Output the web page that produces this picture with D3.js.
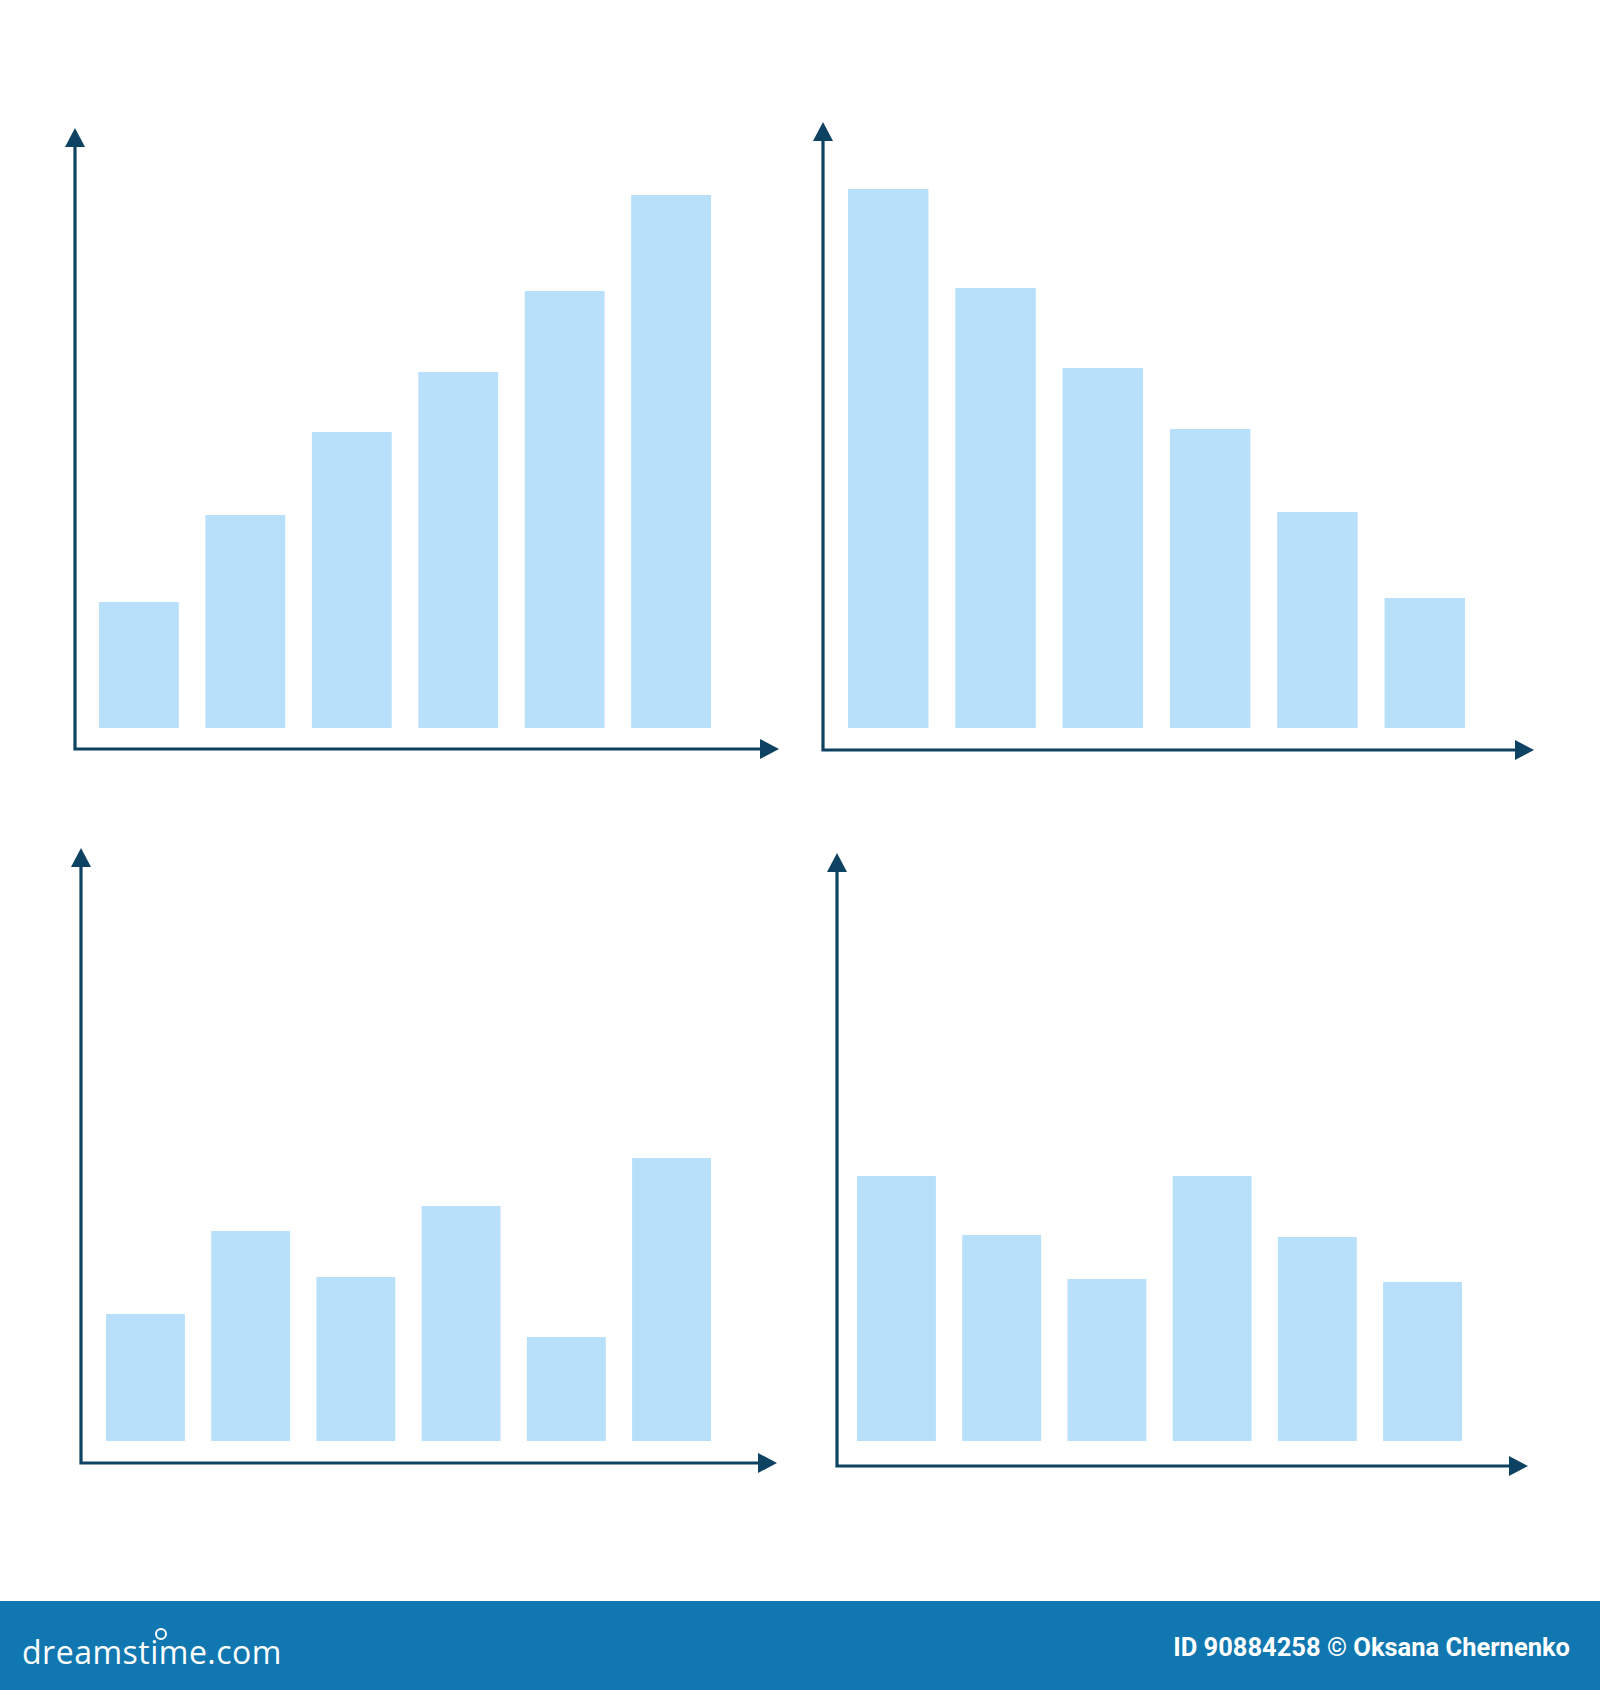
<!DOCTYPE html>
<html>
<head>
<meta charset="utf-8">
<script src="https://cdn.jsdelivr.net/npm/d3@7/dist/d3.min.js"></script>
<style>
  html, body { margin: 0; padding: 0; background: #ffffff; }
  svg { display: block; }
</style>
</head>
<body>
<svg id="chart" width="1600" height="1690"></svg>
<script>
// ---- Data ----
const categories = ["A", "B", "C", "D", "E", "F"];
const risingValues    = [126, 213, 296, 356, 437, 533];
const fallingValues   = [539, 440, 360, 299, 216, 130];
const mixedValuesA    = [127, 210, 164, 235, 104, 283];
const mixedValuesB    = [265, 206, 162, 265, 204, 159];
const valueMax = 600;

const footerLeft = "dreamstime.com";
const footerRight = "ID 90884258 \u00A9 Oksana Chernenko";

// ---- Layout (positions only) ----
const panels = [
  { values: risingValues,  yAxisX: 75,  yTop: 128, xAxisY: 749, xEnd: 779,  barX0: 99,  barX1: 711,  base: 728 },
  { values: fallingValues, yAxisX: 823, yTop: 122, xAxisY: 750, xEnd: 1534, barX0: 848, barX1: 1465, base: 728 },
  { values: mixedValuesA,  yAxisX: 81,  yTop: 848, xAxisY: 1463, xEnd: 777, barX0: 106, barX1: 711,  base: 1441 },
  { values: mixedValuesB,  yAxisX: 837, yTop: 853, xAxisY: 1466, xEnd: 1528, barX0: 857, barX1: 1462, base: 1441 }
];

const barColor = "#b8e0fb";
const axisColor = "#0e4262";
const footerColor = "#1077b0";

const svg = d3.select("#chart");

svg.append("rect").attr("x", 0).attr("y", 0).attr("width", 1600).attr("height", 1690).attr("fill", "#ffffff");

panels.forEach(p => {
  const g = svg.append("g");
  const x = d3.scaleBand().domain(categories).range([p.barX0, p.barX1]).paddingInner(0.25).paddingOuter(0);
  const y = d3.scaleLinear().domain([0, valueMax]).range([p.base, p.base - 600]);

  g.selectAll("rect.bar")
    .data(categories.map((c, i) => ({ c, v: p.values[i] })))
    .join("rect")
    .attr("class", "bar")
    .attr("x", d => x(d.c))
    .attr("width", x.bandwidth())
    .attr("y", d => y(d.v))
    .attr("height", d => y(0) - y(d.v))
    .attr("fill", barColor);

  // axes lines
  const head = 19, halfW = 10;
  g.append("path")
    .attr("d", `M${p.yAxisX},${p.yTop + head - 1} L${p.yAxisX},${p.xAxisY} L${p.xEnd - head + 1},${p.xAxisY}`)
    .attr("fill", "none")
    .attr("stroke", axisColor)
    .attr("stroke-width", 3.2)
    .attr("stroke-linejoin", "miter");
  // arrow heads
  g.append("path")
    .attr("d", `M${p.yAxisX},${p.yTop} L${p.yAxisX + halfW},${p.yTop + head} L${p.yAxisX - halfW},${p.yTop + head} Z`)
    .attr("fill", axisColor);
  g.append("path")
    .attr("d", `M${p.xEnd},${p.xAxisY} L${p.xEnd - head},${p.xAxisY - halfW} L${p.xEnd - head},${p.xAxisY + halfW} Z`)
    .attr("fill", axisColor);
});

// ---- Footer ----
svg.append("rect").attr("x", 0).attr("y", 1601).attr("width", 1600).attr("height", 89).attr("fill", footerColor);
svg.append("text")
  .attr("x", 22).attr("y", 1664)
  .attr("font-family", "'Open Sans', 'DejaVu Sans', sans-serif")
  .attr("font-size", 32)
  .attr("letter-spacing", 0.5)
  .attr("fill", "#ffffff")
  .text(footerLeft);
svg.append("circle").attr("cx", 161).attr("cy", 1634).attr("r", 5).attr("fill", "none").attr("stroke", "#ffffff").attr("stroke-width", 2);
svg.append("text")
  .attr("x", 1570).attr("y", 1656)
  .attr("text-anchor", "end")
  .attr("font-family", "Roboto, 'Liberation Sans', sans-serif")
  .attr("font-weight", "bold")
  .attr("font-size", 25.5)
  .attr("fill", "#ffffff")
  .text(footerRight);
</script>
</body>
</html>
